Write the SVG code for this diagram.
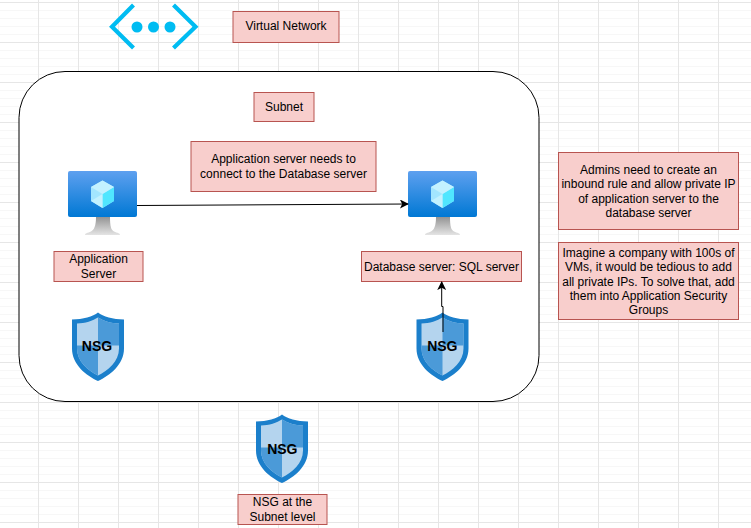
<svg xmlns="http://www.w3.org/2000/svg" width="751" height="528" viewBox="0 0 751 528">
<style>
.note{fill:#f8cecc;stroke:#b85450;stroke-width:1}
text{font-family:"Liberation Sans",Arial,sans-serif;font-size:12px;fill:#000;text-anchor:middle}
.nsgt{font-weight:bold;font-size:14px}
.conn{fill:none;stroke:#000;stroke-width:1;marker-end:url(#arr)}
</style>
<defs>
<pattern id="minor" width="8" height="8" patternUnits="userSpaceOnUse" x="6" y="2"><path d="M8.500 0V8M0 .5H8" fill="none" stroke="#f7f7f7" stroke-width="1"/></pattern>
<pattern id="major" width="40" height="40" patternUnits="userSpaceOnUse" x="38" y="2"><path d="M.5 0V40M0 .5H40" fill="none" stroke="#e6e6e6" stroke-width="1"/></pattern>
<marker id="arr" viewBox="0 0 10 10" refX="9" refY="5" markerWidth="9" markerHeight="9" markerUnits="userSpaceOnUse" orient="auto"><path d="M0 0L10 5L0 10L2.500 5Z" fill="#000"/></marker>
<linearGradient id="scr" x1="0" y1="0" x2="0" y2="1"><stop offset="0" stop-color="#5ea0ef"/><stop offset="1" stop-color="#0078d4"/></linearGradient>
<linearGradient id="std" x1="0" y1="0" x2="0" y2="1"><stop offset="0" stop-color="#949494"/><stop offset="1" stop-color="#e4e4e4"/></linearGradient>
<g id="vm">
<path d="M2 0H67A2 2 0 0 1 69 2V44A2 2 0 0 1 67 46H2A2 2 0 0 1 0 44V2A2 2 0 0 1 2 0Z" fill="url(#scr)"/>
<path d="M28 46H42C42 55 43 59 46 60.500C49 62 52 62 52 64H17C17 62 20 62 23 60.500C26 59 28 55 28 46Z" fill="url(#std)"/>
<path d="M34.500 9.500L46 16V30L34.500 37L23 30V16Z" fill="#a3e6ff"/>
<path d="M34.500 23L46 16V30L34.500 37Z" fill="#50e6ff"/>
<path d="M34.500 9.500L46 16L34.500 23L23 16Z" fill="#c3f1ff"/>
<path d="M34.500 23V37L23 30Z" fill="#c3f1ff"/>
</g>
<g id="shield">
<path d="M26 0C31 4 41 7 52 7V36C52 52 38 63 26 68.500C14 63 0 52 0 36V7C11 7 21 4 26 0Z" fill="#1b7fcb"/>
<path d="M26 5C31 8 39 11 47 11V36C47 49 36 58 26 63C16 58 5 49 5 36V11C13 11 21 8 26 5Z" fill="#b4d4ee"/>
<path d="M26 5C31 8 39 11 47 11V33H26Z" fill="#4b9ad8"/>
<path d="M26 33H5V36C5 49 16 58 26 63Z" fill="#4b9ad8"/>
</g>
</defs>
<rect width="751" height="528" fill="#fff"/>
<rect width="751" height="528" fill="url(#minor)"/>
<rect width="751" height="528" fill="url(#major)"/>

<g id="virtual-network-icon">
<path d="M133.500 5L112 26.700L133.500 48" fill="none" stroke="#00bcf2" stroke-width="4.200"/>
<path d="M173.500 5L195.500 26.700L173.500 48" fill="none" stroke="#00bcf2" stroke-width="4.200"/>
<circle cx="137" cy="27" r="5.500" fill="#00bcf2"/>
<circle cx="153.500" cy="27" r="5.500" fill="#00bcf2"/>
<circle cx="170" cy="27" r="5.500" fill="#00bcf2"/>
</g>
<g id="virtual-network-label"><rect class="note" x="233" y="11.500" width="106" height="31"/><text x="286" y="30">Virtual Network</text></g>

<g id="subnet"><rect x="19" y="71.500" width="520" height="330" rx="46" fill="#fff" stroke="#000" stroke-width="1"/></g>
<g id="subnet-label"><rect class="note" x="254" y="92.500" width="60" height="29"/><text x="284" y="111">Subnet</text></g>
<g id="note-connect"><rect class="note" x="191" y="141.500" width="185" height="50"/><text x="283.500" y="163">Application server needs to</text><text x="283.500" y="178">connect to the Database server</text></g>

<g id="application-server"><use href="#vm" x="68" y="171"/></g>
<g id="application-server-label"><rect class="note" x="54" y="251.500" width="89" height="30"/><text x="98.500" y="263">Application</text><text x="98.500" y="278">Server</text></g>
<g id="database-server"><use href="#vm" x="408" y="171"/></g>
<g id="database-server-label"><rect class="note" x="361.500" y="251.500" width="160" height="30"/><text x="441.500" y="270.500">Database server: SQL server</text></g>

<g id="nsg-app"><use href="#shield" x="72" y="312.500"/><text class="nsgt" x="97" y="351">NSG</text></g>
<g id="nsg-db"><use href="#shield" x="416.500" y="312.500"/><text class="nsgt" x="442.300" y="351">NSG</text></g>
<g id="nsg-subnet"><use href="#shield" x="256" y="414.500"/><text class="nsgt" x="282.300" y="454">NSG</text></g>
<g id="nsg-subnet-label"><rect class="note" x="238" y="494.500" width="89" height="30"/><text x="282.500" y="506">NSG at the</text><text x="282.500" y="521">Subnet level</text></g>

<g id="note-admins"><rect class="note" x="558.500" y="152.500" width="180" height="77"/><text x="648.500" y="174">Admins need to create an</text><text x="648.500" y="188">inbound rule and allow private IP</text><text x="648.500" y="203">of application server to the</text><text x="648.500" y="217">database server</text></g>
<g id="note-imagine"><rect class="note" x="558.500" y="242.500" width="180" height="77"/><text x="648.500" y="257">Imagine a company with 100s of</text><text x="648.500" y="271">VMs, it would be tedious to add</text><text x="648.500" y="286">all private IPs. To solve that, add</text><text x="648.500" y="300">them into Application Security</text><text x="648.500" y="314">Groups</text></g>

<g id="connectors">
<path class="conn" d="M137 205.500L408 204"/>
<path class="conn" d="M443 332V306.500H441.700V282"/>
</g>
</svg>
